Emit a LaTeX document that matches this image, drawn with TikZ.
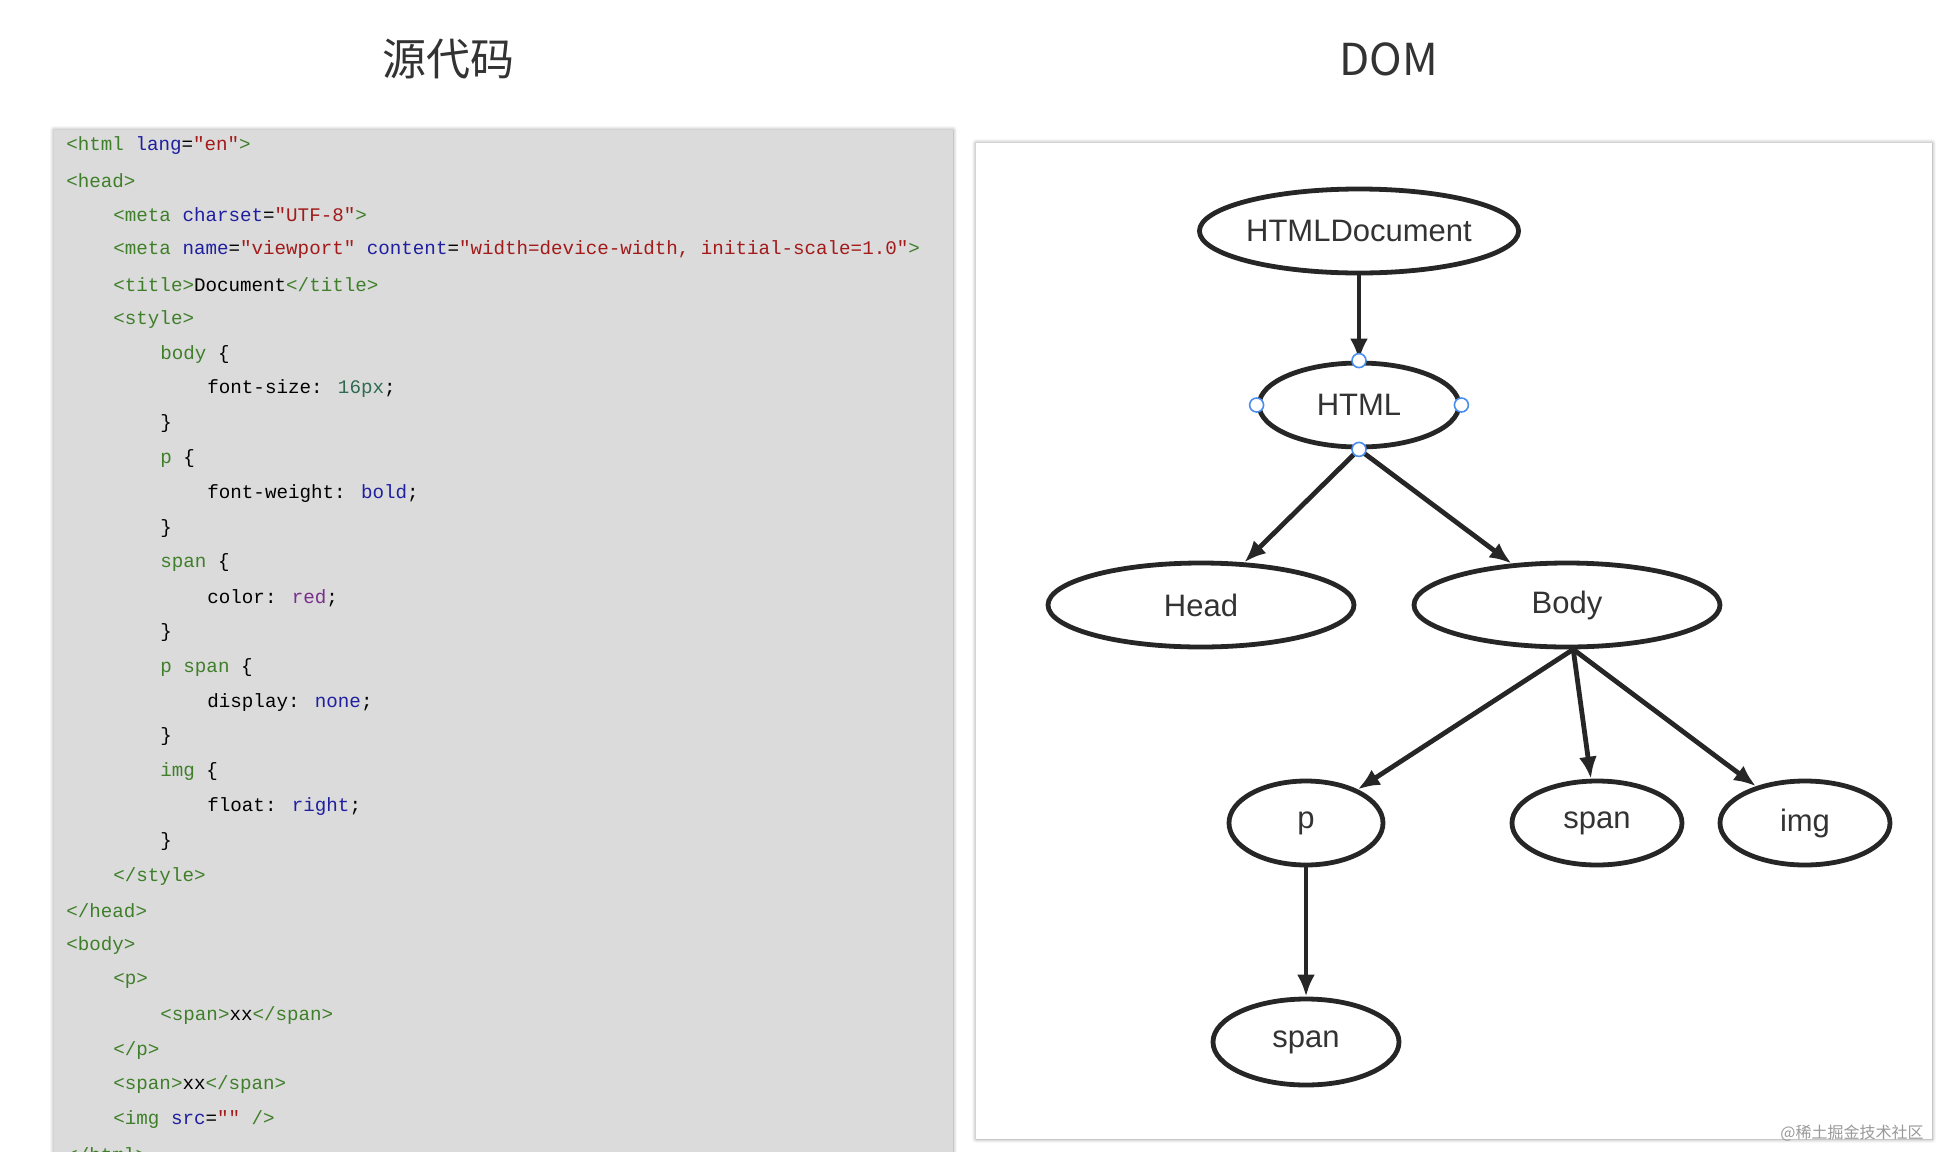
\documentclass[tikz,border=0pt]{standalone}
\usepackage{fontspec}
\setmainfont{Liberation Sans}
\newfontfamily\cjk{Noto Sans CJK SC}
\newfontfamily\codefont{Liberation Mono}
\usetikzlibrary{positioning, arrows.meta, shadows.blur, shapes.geometric}
\definecolor{tagc}{HTML}{3F7F2A}
\definecolor{attrc}{HTML}{1F1FA0}
\definecolor{strc}{HTML}{A31A1A}
\definecolor{numc}{HTML}{2E6B50}
\definecolor{valc}{HTML}{7A2E8C}
\definecolor{handc}{HTML}{4A8EF0}
\newcommand\ctag[1]{\textcolor{tagc}{#1}}
\newcommand\cattr[1]{\textcolor{attrc}{#1}}
\newcommand\cstr[1]{\textcolor{strc}{#1}}
\newcommand\ckw[1]{\textcolor{attrc}{#1}}
\tikzset{
  code/.style={anchor=west, inner sep=0pt, font=\codefont\fontsize{9.6}{10}\selectfont},
  elem/.style={ellipse, draw=black!85, line width=2.4pt, inner sep=0pt, font=\fontsize{15.5}{17}\selectfont, text=black!80},
  handle/.style={circle, draw=handc, fill=white, line width=0.8pt, minimum size=7pt, inner sep=0pt},
  >={Latex[length=11pt, width=9pt]},
}
\begin{document}
\begin{tikzpicture}[x=0.5pt, y=-0.5pt]
\useasboundingbox (0,0) rectangle (1940,1152);
% Titles
\node (t1) at (448,59) [font=\cjk\fontsize{22}{24}\selectfont, text=black!80] {源代码};
\node (t2) at (1389,59) [font=\cjk\fontsize{22}{24}\selectfont, text=black!80] {DOM};

% Panels
\fill[black!14, blur shadow={shadow blur steps=8, shadow xshift=0pt, shadow yshift=0pt}] (54,130) rectangle (953,1160);
\fill[white, blur shadow={shadow blur steps=8, shadow xshift=0pt, shadow yshift=0pt}] (976,143) rectangle (1932,1139);

% Source code
\node[code] (c1) at (66,146) {\ctag{<html} \cattr{lang}=\cstr{"en"}\ctag{>}};
\node[code] (c2) at (66,181) {\ctag{<head>}};
\node[code] (c3) at (113,215) {\ctag{<meta} \cattr{charset}=\cstr{"UTF-8"}\ctag{>}};
\node[code] (c4) at (113,250) {\ctag{<meta} \cattr{name}=\cstr{"viewport"} \cattr{content}=\cstr{"width=device-width, initial-scale=1.0"}\ctag{>}};
\node[code] (c5) at (113,285) {\ctag{<title>}Document\ctag{</title>}};
\node[code] (c6) at (113,320) {\ctag{<style>}};
\node[code] (c7) at (160,355) {\ctag{body} \{};
\node[code] (c8) at (207,389) {font-size: \textcolor{numc}{16px};};
\node[code] (c9) at (160,424) {\}};
\node[code] (c10) at (160,459) {\ctag{p} \{};
\node[code] (c11) at (207,494) {font-weight: \ckw{bold};};
\node[code] (c12) at (160,529) {\}};
\node[code] (c13) at (160,563) {\ctag{span} \{};
\node[code] (c14) at (207,598) {color: \textcolor{valc}{red};};
\node[code] (c15) at (160,633) {\}};
\node[code] (c16) at (160,668) {\ctag{p span} \{};
\node[code] (c17) at (207,703) {display: \ckw{none};};
\node[code] (c18) at (160,737) {\}};
\node[code] (c19) at (160,772) {\ctag{img} \{};
\node[code] (c20) at (207,807) {float: \ckw{right};};
\node[code] (c21) at (160,842) {\}};
\node[code] (c22) at (113,877) {\ctag{</style>}};
\node[code] (c23) at (66,911) {\ctag{</head>}};
\node[code] (c24) at (66,946) {\ctag{<body>}};
\node[code] (c25) at (113,981) {\ctag{<p>}};
\node[code] (c26) at (160,1016) {\ctag{<span>}xx\ctag{</span>}};
\node[code] (c27) at (113,1051) {\ctag{</p>}};
\node[code] (c28) at (113,1085) {\ctag{<span>}xx\ctag{</span>}};
\node[code] (c29) at (113,1120) {\ctag{<img} \cattr{src}=\cstr{""} \ctag{/>}};
\node[code] (c30) at (66,1155) {\ctag{</html>}};

% DOM tree
\node[elem, minimum width=153pt, minimum height=42pt] (doc) at (1359,231) {HTMLDocument};
\node[elem, minimum width=100pt, minimum height=42pt] (html) at (1359,405) {HTML};
\node[elem, minimum width=153pt, minimum height=42pt] (head) at (1201,605) {Head};
\node[elem, minimum width=153pt, minimum height=42pt] (body) at (1567,605) {Body};
\node[elem, minimum width=77pt, minimum height=42pt] (p) at (1306,823) {p};
\node[elem, minimum width=85pt, minimum height=42pt] (span) at (1597,823) {span};
\node[elem, minimum width=85pt, minimum height=42pt] (img) at (1805,823) {img};
\node[elem, minimum width=93pt, minimum height=43pt] (pspan) at (1306,1042) {span};

\begin{scope}[->, line width=2.4pt, draw=black!85]
\draw (doc) -- (html);
\draw (html.south) -- (head);
\draw (html.south) -- (body);
\draw (body.-82) -- (p);
\draw (body.-82) -- (span);
\draw (body.-82) -- (img);
\draw (p) -- (pspan);
\end{scope}

% Selection handles
\foreach \a in {north, south, east, west}
  \node[handle] at (html.\a) {};

\node (wm) at (1852,1133) [font=\cjk\fontsize{8}{9}\selectfont, text=black!40] {@稀土掘金技术社区};
\end{tikzpicture}
\end{document}
